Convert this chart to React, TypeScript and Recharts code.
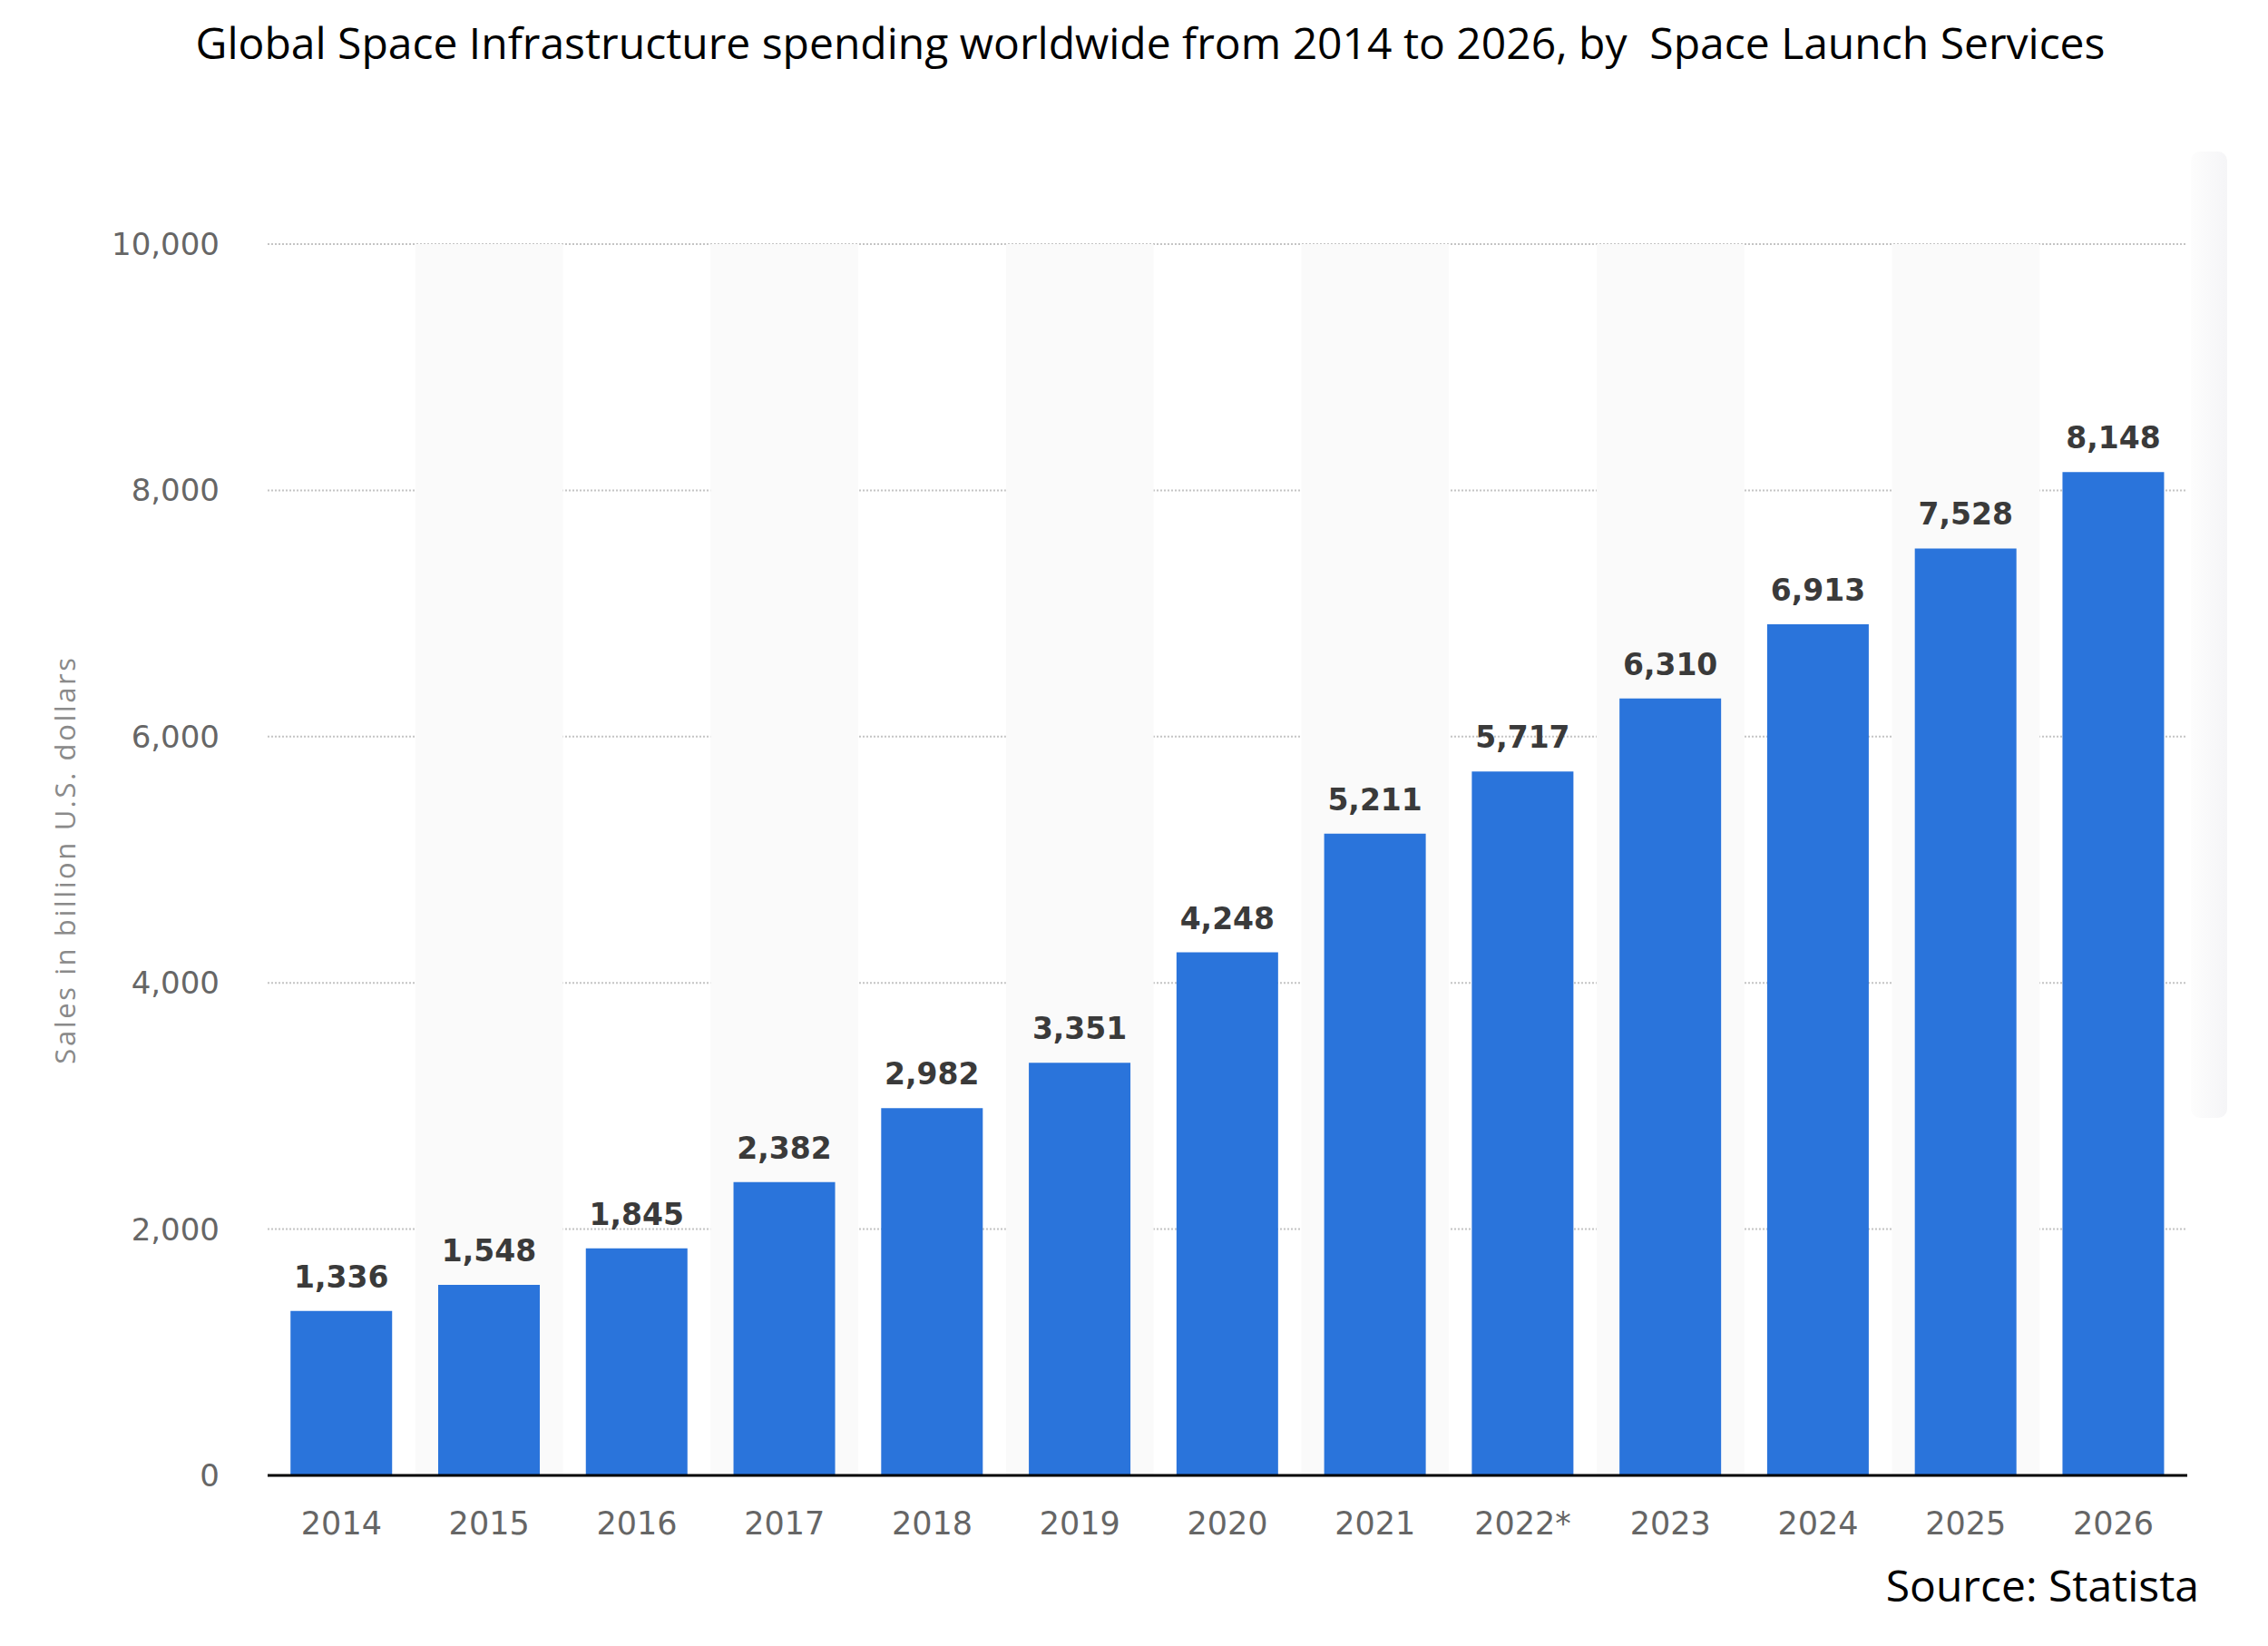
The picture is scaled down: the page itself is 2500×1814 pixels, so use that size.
import { Bar, BarChart, CartesianGrid, LabelList, ReferenceArea, XAxis, YAxis } from "recharts";

const years = ["2014", "2015", "2016", "2017", "2018", "2019", "2020", "2021", "2022*", "2023", "2024", "2025", "2026"];
const spending = [1336, 1548, 1845, 2382, 2982, 3351, 4248, 5211, 5717, 6310, 6913, 7528, 8148];
const yTicks = [0, 2000, 4000, 6000, 8000, 10000];
// every other column gets a faint background band
const shadedYears = ["2015", "2017", "2019", "2021", "2023", "2025"];

const TITLE = "Global Space Infrastructure spending worldwide from 2014 to 2026, by  Space Launch Services";
const SOURCE = "Source: Statista";

const chartData = years.map((year, i) => ({ year, value: spending[i] }));

const fmt = (v: number) => v.toLocaleString("en-US");

const tickFont = "'DejaVu Sans', sans-serif";

export default function App() {
  return (
    <div style={{ position: "absolute", left: 0, top: 0, width: 2500, height: 1814, background: "#fff" }}>
      <div
        style={{
          position: "absolute",
          left: 2415,
          top: 167,
          width: 40,
          height: 1065,
          background: "linear-gradient(to right, #fdfdfd, #f5f5f7)",
          borderRadius: 10,
        }}
      />
      <svg width={2500} height={1814} style={{ position: "absolute", left: 0, top: 0 }}>
        <text
          x={1268}
          y={65}
          textAnchor="middle"
          fontFamily="'Open Sans', sans-serif"
          fontSize={48}
          fill="#000"
          style={{ whiteSpace: "pre" }}
        >
          {TITLE}
        </text>
        <text x={2424} y={1765} textAnchor="end" fontFamily="'Open Sans', sans-serif" fontSize={48} fill="#000">
          {SOURCE}
        </text>
      </svg>
      <div style={{ position: "absolute", left: 0, top: 0 }}>
        <BarChart
          width={2500}
          height={1814}
          data={chartData}
          margin={{ top: 269, right: 89, bottom: 158, left: 0 }}
          barCategoryGap="15.5%"
        >
          {shadedYears.map((y) => (
            <ReferenceArea
              key={y}
              x1={y}
              x2={y}
              y1={0}
              y2={10000}
              fill="#fafafa"
              fillOpacity={1}
              stroke="none"
            />
          ))}
          <CartesianGrid vertical={false} stroke="#c4c4c4" strokeWidth={2} strokeDasharray="2 2" />
          <XAxis
            dataKey="year"
            tickLine={false}
            axisLine={{ stroke: "#000", strokeWidth: 3 }}
            tickMargin={34}
            tick={{ fill: "#666", fontSize: 35, fontFamily: tickFont }}
          />
          <YAxis
            width={295}
            domain={[0, 10000]}
            ticks={yTicks}
            tickFormatter={fmt}
            tickLine={false}
            axisLine={false}
            tickMargin={47}
            tick={{ fill: "#666", fontSize: 34, fontFamily: tickFont }}
            label={{
              value: "Sales in billion U.S. dollars",
              angle: -90,
              position: "insideLeft",
              offset: 72,
              style: {
                textAnchor: "middle",
                fill: "#8a8a8a",
                fontSize: 31,
                letterSpacing: 2.6,
                fontFamily: "'Open Sans', sans-serif",
              },
            }}
          />
          <Bar dataKey="value" fill="#2a74db" isAnimationActive={false}>
            <LabelList
              dataKey="value"
              position="top"
              offset={26}
              formatter={(v: number) => fmt(v)}
              style={{ fill: "#3a3a3a", fontSize: 33, fontWeight: "bold", fontFamily: tickFont }}
            />
          </Bar>
        </BarChart>
      </div>
    </div>
  );
}
